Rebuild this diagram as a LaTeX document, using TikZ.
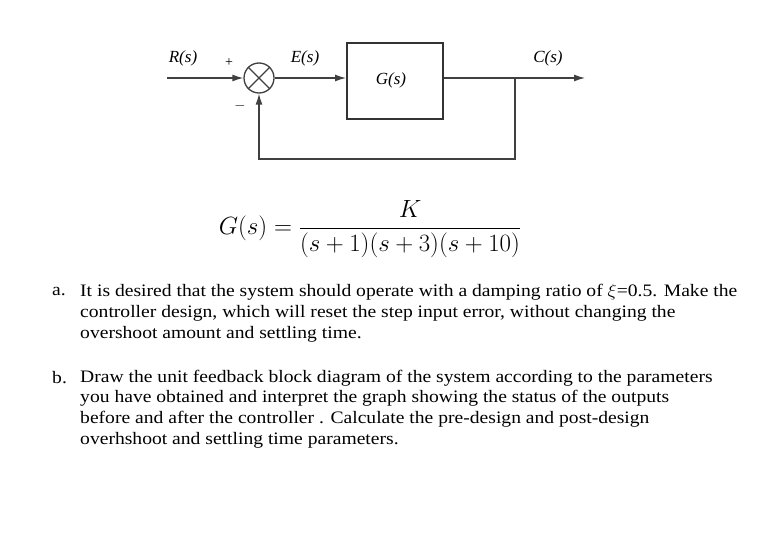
\documentclass[tikz,border=0pt]{standalone}
\usepackage{fontspec}
\setmainfont{Liberation Serif}
\usetikzlibrary{arrows.meta}
\newcommand{\wline}[1]{\scalebox{1.12}[1]{#1}}
\begin{document}
\begin{tikzpicture}[x=1pt,y=-1pt,
  sig/.style={line width=1.3pt,draw=black!75},
  arr/.style={sig,-{Latex[length=11pt,width=7pt]}},
  lbl/.style={font=\fontsize{17}{19}\selectfont\itshape},
  txt/.style={anchor=west,inner sep=0,font=\fontsize{17.5}{19}\selectfont}]
\useasboundingbox (0,0) rectangle (778,545);
\fill[white] (0,0) rectangle (778,545);
\node[circle,draw=black!75,line width=1.3pt,minimum size=30pt,inner sep=0] (sum) at (259,78) {};
\draw[sig] (sum.45)--(sum.225) (sum.135)--(sum.315);
\node[draw=black!80,line width=2pt,minimum width=96pt,minimum height=76pt] (g) at (395,81) {};
\node[lbl] at (391,80) {G(s)};
\coordinate (in) at (167,78);
\coordinate (br) at (515,78);
\coordinate (out) at (585,78);
\coordinate (bot) at (515,159);
\draw[arr] (in)--(sum.west);
\draw[arr] (sum.east)--(g.west |- sum.east);
\draw[sig] (g.east |- br)--(br);
\draw[arr] (br)--(out);
\draw[arr] (br)--(bot)-|(sum.south);
\node[lbl] at (183,58) {R(s)};
\node[font=\fontsize{14}{16}\selectfont] at (229,63) {+};
\node[lbl] at (305,58) {E(s)};
\node[lbl] at (548,58) {C(s)};
\node[font=\fontsize{14}{16}\selectfont] at (240,106) {$-$};
\node[inner sep=0,font=\fontsize{29}{34}\selectfont] (eq) at (370,229) {$\displaystyle G(s)=\frac{K}{(s+1)(s+3)(s+10)}$};
\node[txt] at (52,292) {\wline{a.}};
\node[txt] at (80,292) {\wline{It is desired that the system should operate with a damping ratio of $\xi$=0.5. Make the}};
\node[txt] at (80,313) {\wline{controller design, which will reset the step input error, without changing the}};
\node[txt] at (80,334) {\wline{overshoot amount and settling time.}};
\node[txt] at (52,378) {\wline{b.}};
\node[txt] at (80,378) {\wline{Draw the unit feedback block diagram of the system according to the parameters}};
\node[txt] at (80,398) {\wline{you have obtained and interpret the graph showing the status of the outputs}};
\node[txt] at (80,419) {\wline{before and after the controller . Calculate the pre-design and post-design}};
\node[txt] at (80,440) {\wline{overhshoot and settling time parameters.}};
\end{tikzpicture}
\end{document}
